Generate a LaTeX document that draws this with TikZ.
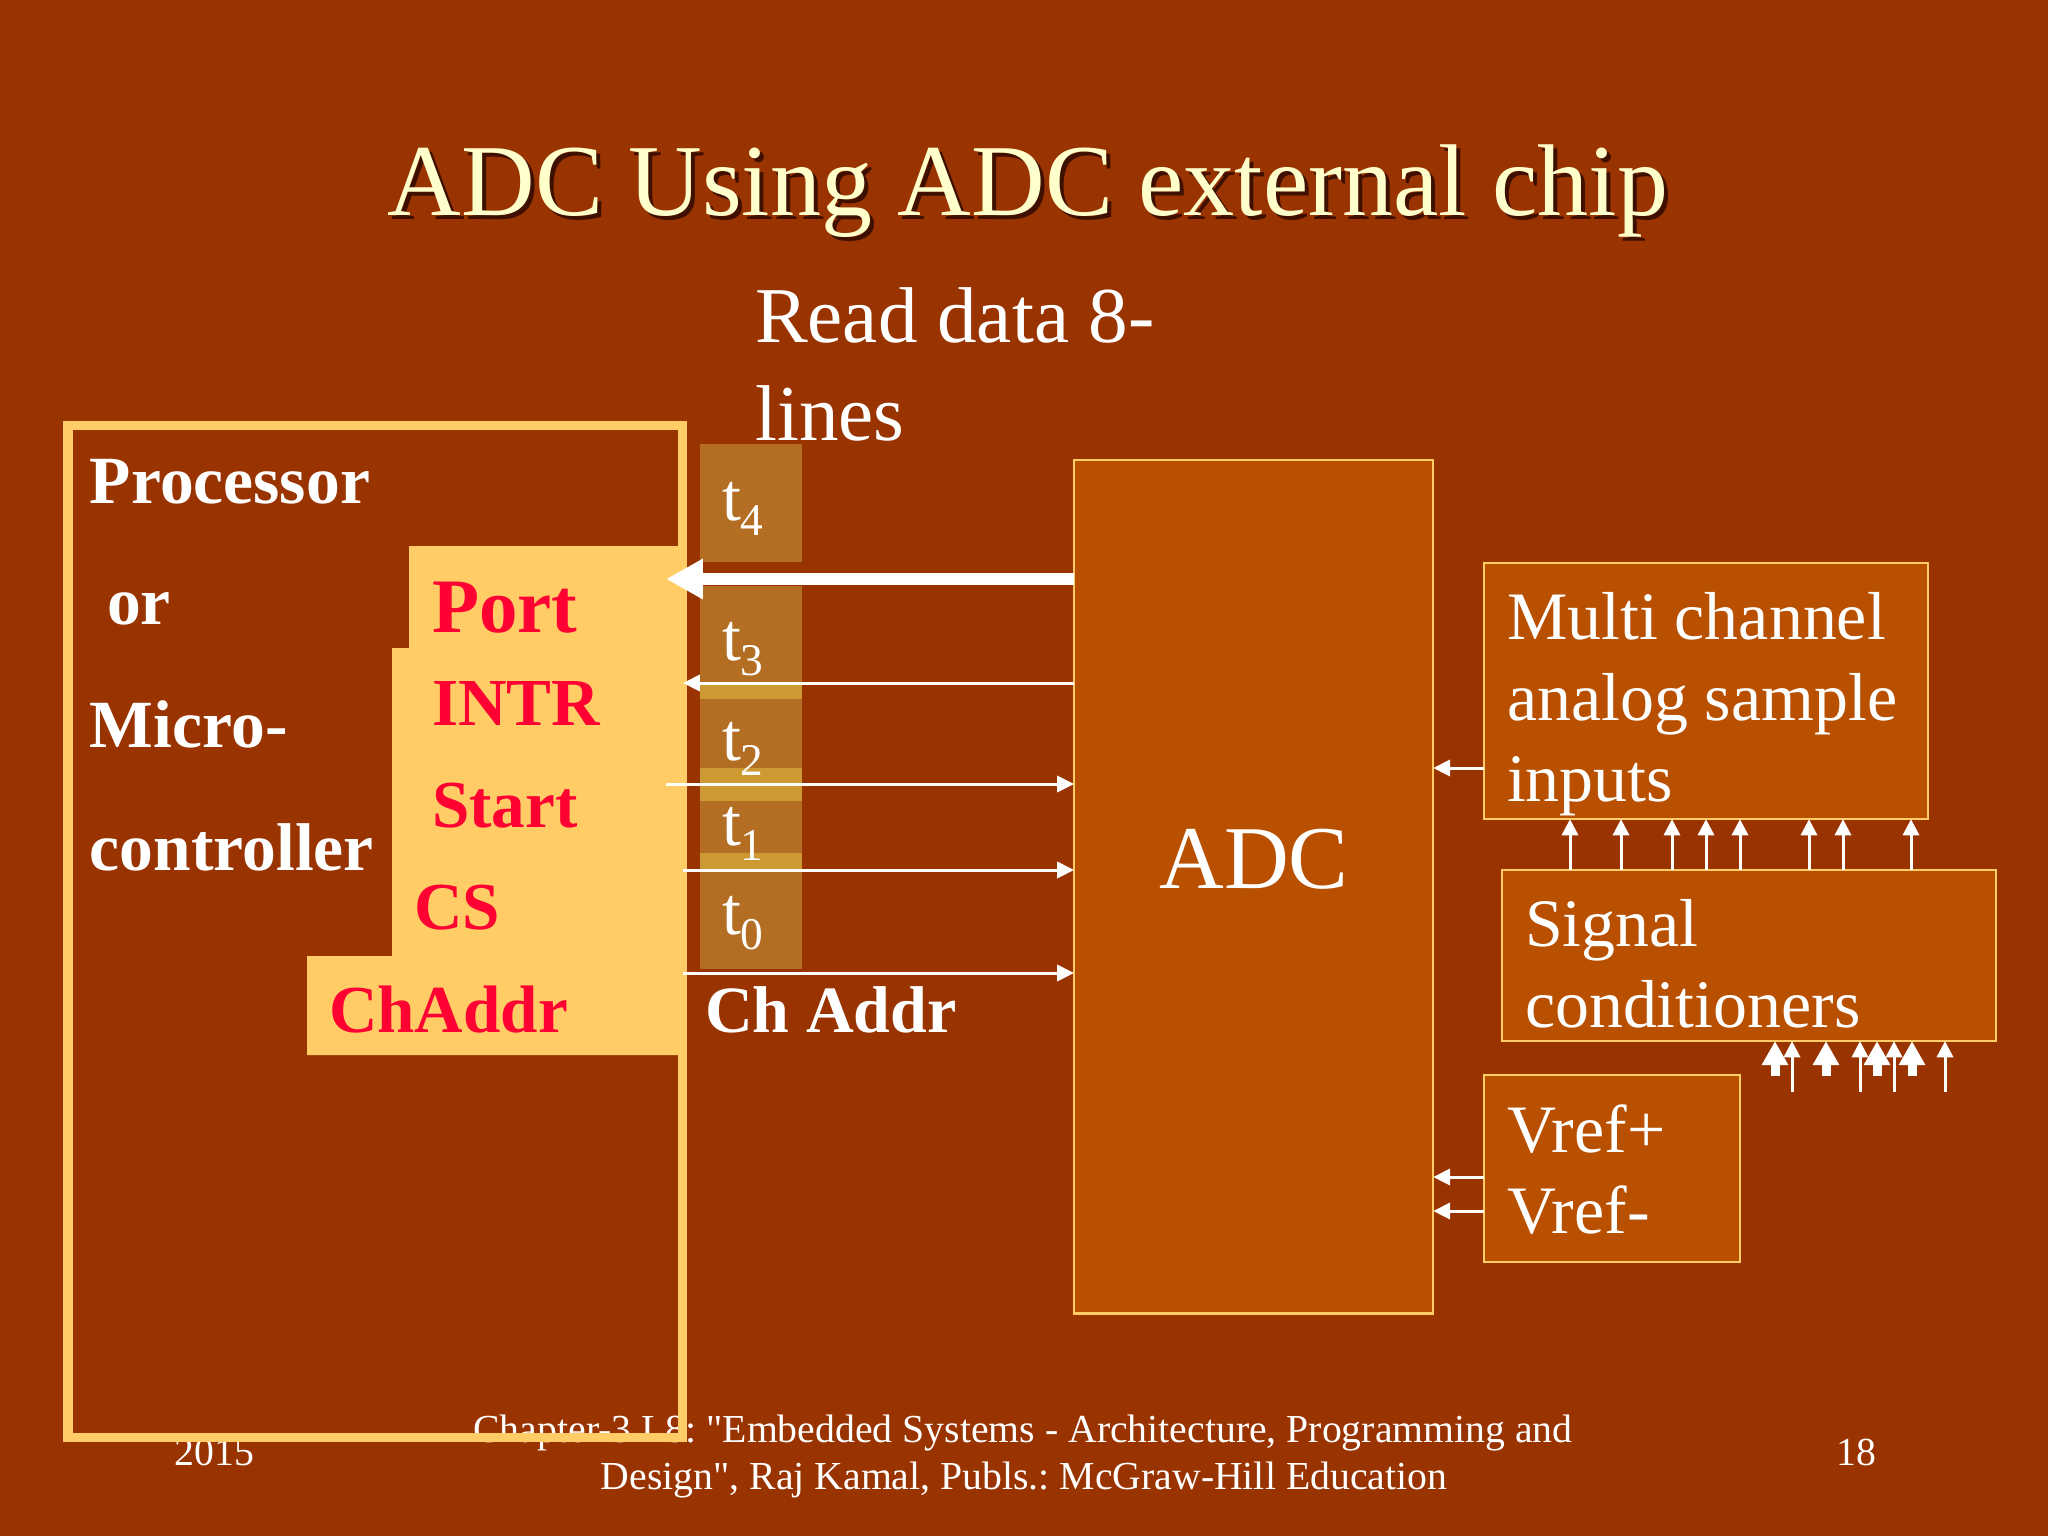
\documentclass[tikz,border=0pt]{standalone}
\usepackage{fontspec}
\setmainfont{Liberation Serif}
\newfontfamily\footfont{Liberation Serif}[Ligatures=Common]
\usetikzlibrary{arrows.meta}
\definecolor{bg}{HTML}{993300}
\definecolor{boxfill}{HTML}{B95000}
\definecolor{peach}{HTML}{FFCC66}
\definecolor{tbox}{HTML}{B46E23}
\definecolor{tstrip}{HTML}{CC9933}
\definecolor{redtxt}{HTML}{FF0033}
\definecolor{titlec}{HTML}{FFFFCC}
\definecolor{shadowc}{HTML}{3F1000}
\newcommand{\tsub}[1]{t\raisebox{-0.23em}{\fontsize{12.9}{14}\selectfont #1}}
\frenchspacing
\tikzset{
  lbl/.style={inner sep=0pt, outer sep=0pt, anchor=base west, text=white},
  box/.style={draw=peach, line width=0.6pt, fill=boxfill, anchor=north west, inner sep=0pt, outer sep=0pt},
  boxtxt/.style={lbl, font=\fontsize{19.3}{23}\selectfont},
  proctxt/.style={lbl, font=\bfseries\fontsize{19.2}{23}\selectfont},
  redlbl/.style={lbl, text=redtxt, font=\bfseries\fontsize{19.1}{23}\selectfont},
  tlbl/.style={lbl, font=\fontsize{19.3}{23}\selectfont},
  foot/.style={inner sep=0pt, text=white, font=\footfont\fontsize{11.3}{13}\selectfont},
  thinarrow/.style={draw=white, line width=0.85pt, -{Triangle[length=4.8pt,width=4.6pt]}},
  upthin/.style={draw=white, line width=0.85pt, -{Triangle[length=4.6pt,width=4.6pt]}},
  blockarrow/.style={draw=white, line width=2.55pt, -{Triangle[length=6.8pt,width=7.1pt]}},
  thickarrow/.style={draw=white, line width=3.4pt, -{Triangle[length=10.5pt,width=10.8pt]}}
}
\begin{document}
\begin{tikzpicture}[x=0.01cm, y=-0.01cm]
\useasboundingbox (0,0) rectangle (2048,1536);
\fill[bg] (0,0) rectangle (2048,1536);

% title
\node[anchor=base, inner sep=0pt, text=shadowc, font=\fontsize{29}{35}\selectfont] (titleshadow) at (1032,219) {ADC Using ADC external chip};
\node[anchor=base, inner sep=0pt, text=titlec, font=\fontsize{29}{35}\selectfont] (title) at (1028,215) {ADC Using ADC external chip};

% read data label
\node[lbl, font=\fontsize{22.5}{27}\selectfont] (read1) at (755,342) {Read data 8-};
\node[lbl, font=\fontsize{22.5}{27}\selectfont] (read2) at (755,440) {lines};

% footer (drawn before processor frame, which overlaps it)
\node[foot, anchor=base west] (year) at (174,1465) {2015};
\node[foot, anchor=base] (foot1) at (1023,1442) {Chapter-3 L8: "Embedded Systems - Architecture, Programming and};
\node[foot, anchor=base] (foot2) at (1024,1489) {Design", Raj Kamal, Publs.: McGraw-Hill Education};
\node[foot, anchor=base west] (page) at (1836,1465) {18};

% t column
\fill[tbox] (700,444) rectangle (802,562);
\fill[tbox] (700,586) rectangle (802,683);
\fill[tstrip] (700,683) rectangle (802,699);
\fill[tbox] (700,699) rectangle (802,768);
\fill[tstrip] (700,768) rectangle (802,801);
\fill[tbox] (700,801) rectangle (802,853);
\fill[tstrip] (700,853) rectangle (802,869);
\fill[tbox] (700,869) rectangle (802,969);
\node[tlbl] (t4) at (722,520) {\tsub{4}};
\node[tlbl] (t3) at (722,660) {\tsub{3}};
\node[tlbl] (t2) at (722,760) {\tsub{2}};
\node[tlbl] (t1) at (722,845) {\tsub{1}};
\node[tlbl] (t0) at (722,934) {\tsub{0}};

% processor: peach port area + frame
\fill[peach] (409,546) -- (682,546) -- (682,1055) -- (307,1055) -- (307,956) -- (392,956) -- (392,648) -- (409,648) -- cycle;
\node[draw=peach, line width=2.56pt, minimum width=6.14cm, minimum height=10.12cm, anchor=north west, inner sep=0pt, outer sep=0pt] (proc) at (68,425) {};
\node[proctxt] (p1) at (90,503) {Processor};
\node[proctxt] (p2) at (107,624) {or};
\node[proctxt] (p3) at (90,747) {Micro-};
\node[proctxt] (p4) at (90,870) {controller};
\node[redlbl, font=\bfseries\fontsize{21.9}{26}\selectfont] (port) at (432,632) {Port};
\node[redlbl] (intr) at (432,725) {INTR};
\node[redlbl] (start) at (432,827) {Start};
\node[redlbl] (cs) at (414,929) {CS};
\node[redlbl] (chaddr) at (329,1032) {ChAddr};
\node[lbl, font=\bfseries\fontsize{18.8}{23}\selectfont] (chaddrlbl) at (705,1032) {Ch Addr};

% ADC and right-hand boxes
\node[box, minimum width=3.59cm, minimum height=8.53cm] (adc) at (1074,460) {};
\node[lbl, anchor=base, font=\fontsize{25.5}{30}\selectfont] (adctxt) at (1254,888) {ADC};
\node[box, minimum width=4.44cm, minimum height=2.56cm] (multi) at (1484,563) {};
\node[boxtxt] (m1) at (1507,639) {Multi channel};
\node[boxtxt] (m2) at (1507,720) {analog sample};
\node[boxtxt] (m3) at (1507,801) {inputs};
\node[box, minimum width=4.94cm, minimum height=1.71cm] (signal) at (1502,870) {};
\node[boxtxt] (s1) at (1525,946) {Signal};
\node[boxtxt] (s2) at (1525,1027) {conditioners};
\node[box, minimum width=2.56cm, minimum height=1.87cm] (vref) at (1484,1075) {};
\node[boxtxt] (v1) at (1507,1152) {Vref+};
\node[boxtxt] (v2) at (1507,1233) {Vref-};

% connectors between processor and ADC
\coordinate (portend) at (666,579);
\coordinate (intrend) at (683,683);
\coordinate (startbeg) at (666,784);
\coordinate (csbeg) at (683,870);
\coordinate (chbeg) at (683,973);
\draw[thickarrow] (adc.west |- portend) -- (portend);
\draw[thinarrow] (adc.west |- intrend) -- (intrend);
\draw[thinarrow] (startbeg) -- (adc.west |- startbeg);
\draw[thinarrow] (csbeg) -- (adc.west |- csbeg);
\draw[thinarrow] (chbeg) -- (adc.west |- chbeg);

% right side connectors
\coordinate (ymulti) at (0,768);
\coordinate (yvp) at (0,1177);
\coordinate (yvm) at (0,1211);
\draw[thinarrow] (multi.west |- ymulti) -- (adc.east |- ymulti);
\draw[thinarrow] (vref.west |- yvp) -- (adc.east |- yvp);
\draw[thinarrow] (vref.west |- yvm) -- (adc.east |- yvm);
\foreach \xx in {1570,1621,1672,1706,1740,1809,1843,1911}
  \draw[upthin] (signal.north -| \xx,0) -- (multi.south -| \xx,0);
\foreach \xx in {1792,1860,1894,1945}
  \draw[upthin] (\xx,1092) -- (signal.south -| \xx,0);
\foreach \xx in {1775,1826,1877,1912}
  \draw[blockarrow] (\xx,1076) -- (signal.south -| \xx,0);
\end{tikzpicture}
\end{document}
